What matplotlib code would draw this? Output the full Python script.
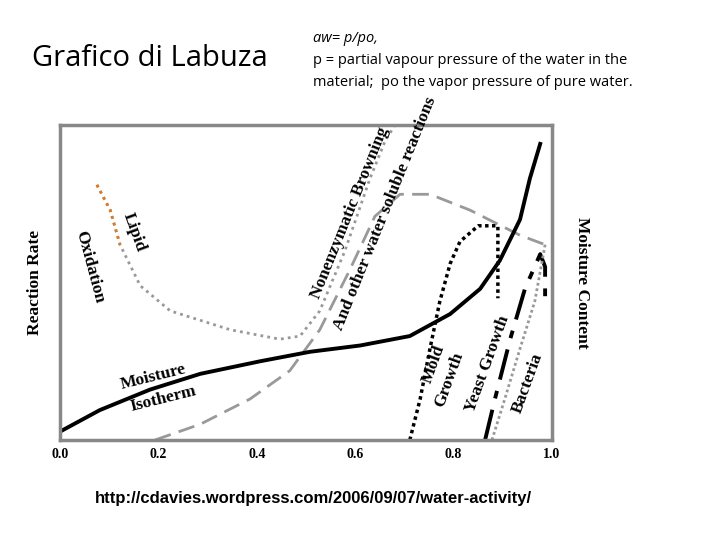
import matplotlib
matplotlib.use("Agg")
import matplotlib.pyplot as plt

lip_x=[0.075,0.102,0.122,0.163,0.224,0.346,0.447,0.488,0.528,0.579,0.630,0.661,0.681]
lip_y=[0.81,0.73,0.62,0.49,0.41,0.35,0.32,0.33,0.41,0.60,0.83,0.95,1.0]
br_x=[0.193,0.285,0.386,0.467,0.528,0.589,0.640,0.691,0.752,0.833,0.935,0.986]
br_y=[0,0.05,0.13,0.22,0.35,0.54,0.71,0.78,0.78,0.73,0.65,0.62]
iso_x=[0.004,0.081,0.183,0.285,0.407,0.508,0.610,0.711,0.793,0.854,0.894,0.935,0.955,0.976]
iso_y=[0.03,0.095,0.16,0.21,0.25,0.28,0.30,0.33,0.40,0.48,0.57,0.70,0.83,0.94]
mold_x=[0.711,0.732,0.752,0.772,0.793,0.813,0.85,0.89,0.89]
mold_y=[0,0.13,0.29,0.44,0.56,0.63,0.68,0.68,0.45]
yeast_x=[0.864,0.884,0.915,0.945,0.976,0.986,0.986]
yeast_y=[0,0.13,0.32,0.48,0.59,0.55,0.45]
bac_x=[0.878,0.904,0.935,0.965,0.986]
bac_y=[0,0.13,0.29,0.44,0.62]
xticks=[0.0,0.2,0.4,0.6,0.8,1.0]

fig=plt.figure(figsize=(7.2,5.4),dpi=100)
ax=fig.add_axes([60/720,100/540,492/720,315/540])
ax.set_xlim(0,1); ax.set_ylim(0,1)
ax.plot(lip_x,lip_y,color='#999999',ls=(0,(1,1.5)),lw=2)
ax.plot(lip_x[:3],lip_y[:3],color='#e07a20',ls=(0,(1,1.5)),lw=2)
ax.plot(br_x,br_y,color='#999999',ls=(0,(6,3)),lw=2)
ax.plot(iso_x,iso_y,color='black',lw=2.8)
ax.plot(mold_x,mold_y,color='black',ls=(0,(1,1)),lw=2.5)
ax.plot(yeast_x,yeast_y,color='black',ls=(0,(8,3,2,3)),lw=2.8)
ax.plot(bac_x,bac_y,color='#999999',ls=(0,(1,1)),lw=2)
ax.set_xticks(xticks); ax.set_xticklabels([f"{v:.1f}" for v in xticks],fontsize=10,fontweight='bold',family='Liberation Serif')
ax.set_yticks([])
ax.tick_params(axis='x',length=0,pad=6)
for s in ax.spines.values(): s.set_color('#888888'); s.set_linewidth(2.5)
sf=dict(family='Liberation Serif',fontweight='bold',fontsize=12.5)
ax.text(-0.05,0.5,'Reaction Rate',rotation=90,ha='center',va='center',transform=ax.transAxes,**sf)
ax.text(1.06,0.5,'Moisture Content',rotation=-90,ha='center',va='center',transform=ax.transAxes,**sf)
ax.text(0.15,0.66,'Lipid',rotation=-70,ha='center',va='center',**sf)
ax.text(0.06,0.55,'Oxidation',rotation=-75,ha='center',va='center',**sf)
ax.text(0.59,0.72,'Nonenzymatic Browning',rotation=68,ha='center',va='center',**sf)
ax.text(0.66,0.72,'And other water soluble reactions',rotation=68,ha='center',va='center',**sf)
ax.text(0.19,0.2,'Moisture',rotation=14,ha='center',va='center',**sf)
ax.text(0.21,0.13,'Isotherm',rotation=14,ha='center',va='center',**sf)
ax.text(0.76,0.24,'Mold',rotation=70,ha='center',va='center',**sf)
ax.text(0.79,0.19,'Growth',rotation=70,ha='center',va='center',**sf)
ax.text(0.87,0.24,'Yeast Growth',rotation=70,ha='center',va='center',**sf)
ax.text(0.95,0.18,'Bacteria',rotation=70,ha='center',va='center',**sf)
fig.text(32/720,1-58/540,'Grafico di Labuza',fontsize=21,family='Open Sans',va='center')
fig.text(313/720,1-38/540,'aw= p/po,',fontsize=10.5,style='italic',family='Open Sans',va='center')
fig.text(313/720,1-60/540,'p = partial vapour pressure of the water in the',fontsize=10.5,family='Open Sans',va='center')
fig.text(313/720,1-82/540,'material;  po the vapor pressure of pure water.',fontsize=10.5,family='Open Sans',va='center')
fig.text(95/720,1-498/540,'http://cdavies.wordpress.com/2006/09/07/water-activity/',fontsize=12,fontweight='bold',family='Liberation Sans',va='center')
fig.savefig('out.png',dpi=100)
